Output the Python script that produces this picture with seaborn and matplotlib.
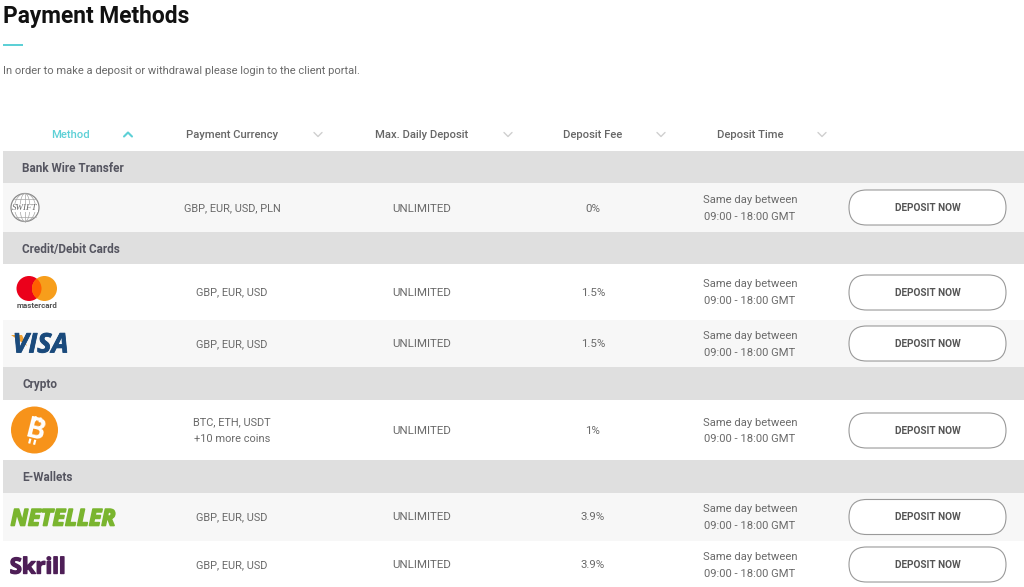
import matplotlib
matplotlib.use("Agg")
import matplotlib.pyplot as plt
import matplotlib.patheffects as pe
import numpy as np
import seaborn as sns
from matplotlib.patches import Circle, FancyBboxPatch, Rectangle, Polygon

title = "Payment Methods"
subtitle = "In order to make a deposit or withdrawal please login to the client portal."
headers = ["Method", "Payment Currency", "Max. Daily Deposit", "Deposit Fee", "Deposit Time"]
groups = ["Bank Wire Transfer", "Credit/Debit Cards", "Crypto", "E-Wallets"]
methods = ["SWIFT", "mastercard", "VISA", "Bitcoin", "NETELLER", "Skrill"]
currencies = ["GBP, EUR, USD, PLN", "GBP, EUR, USD", "GBP, EUR, USD",
              "BTC, ETH, USDT\n+10 more coins", "GBP, EUR, USD", "GBP, EUR, USD"]
limits = ["UNLIMITED"] * 6
fees = ["0%", "1.5%", "1.5%", "1%", "3.9%", "3.9%"]
times = ["Same day between\n09:00 - 18:00 GMT"] * 6
button = "DEPOSIT NOW"

# layout, in page pixels
group_bands = [(151, 183), (232, 264), (367, 400), (460, 493)]
row_bands = [(183, 232), (264, 320), (320, 367), (400, 460), (493, 541), (541, 587)]
row_fill = ["#f7f7f7", "#ffffff", "#f7f7f7", "#ffffff", "#f7f7f7", "#ffffff"]
row_mid = [208.5, 292.5, 344, 430.5, 517.5, 565]
time_mid = [208.5, 292.5, 344.5, 431, 517.5, 565.5]
btn_mid = [207.5, 292.5, 343.5, 430.5, 517, 564.5]
col_x = [70, 232, 422, 593, 750]
chevron_x = [128, 318, 508, 661, 822]

TEAL = "#5dd0d6"
TXT = "#6a6a6a"

sns.set_theme(style="white")
plt.rcParams["font.family"] = ["Roboto", "DejaVu Sans"]


def px(size):
    return size * 0.72


def heavy(color, width):
    return [pe.withStroke(linewidth=width, foreground=color)]


def draw_logos(ax):
    # swift globe
    cx, cy, r = 25, 207.5, 14
    ax.add_patch(Circle((cx, cy), r, fc="white", ec="#8a8a8a", lw=0.9))
    for w in [0.35, 0.75]:
        t = np.linspace(0, 2 * np.pi, 60)
        ax.plot(cx + r * w * np.cos(t), cy + r * np.sin(t), color="#a5a5a5", lw=0.5)
    for dy in [-9, 9]:
        half = np.sqrt(r ** 2 - dy ** 2)
        ax.plot([cx - half, cx + half], [cy + dy, cy + dy], color="#a5a5a5", lw=0.5)
    ax.plot([cx, cx], [cy - r, cy + r], color="#a5a5a5", lw=0.5)
    ax.text(cx, cy + 0.5, "SWIFT", fontsize=px(9), style="italic", family="Liberation Serif",
            ha="center", va="center", color="#666666",
            bbox=dict(fc="white", ec="none", pad=0.3))

    # mastercard
    ax.add_patch(Circle((29, 288.5), 12.5, fc="#eb001b", ec="none"))
    ax.add_patch(Circle((44.5, 288.5), 12.5, fc="#f79e1b", ec="none"))
    lens = Circle((44.5, 288.5), 12.5, fc="#ff5f00", ec="none")
    ax.add_patch(lens)
    lens.set_clip_path(Circle((29, 288.5), 12.5, transform=ax.transData))
    ax.text(37.5, 305.5, methods[1], fontsize=px(8), weight="bold", ha="center", va="center", color="#555555")

    # visa
    ax.text(40.5, 345.5, methods[2], fontsize=px(27), weight="bold", style="italic", ha="center", va="center",
            color="#1a4a7c", family="Open Sans", path_effects=heavy("#1a4a7c", 0.6))
    ax.add_patch(Polygon([(11, 335), (22, 335), (27, 346)], fc="#f0a030", ec="none"))

    # bitcoin
    ax.add_patch(Circle((34.5, 430), 23.5, fc="#f7931a", ec="none"))
    ax.text(35, 430.5, "B", fontsize=px(29), weight="bold", rotation=-14, ha="center", va="center", color="white")
    ang = np.deg2rad(14)
    for off in [-2.5, 2.5]:
        for y0, y1 in [(-14, -9), (9, 14)]:
            xs = [35 + off * np.cos(ang) - y0 * np.sin(ang), 35 + off * np.cos(ang) - y1 * np.sin(ang)]
            ys = [430.5 + off * np.sin(ang) + y0 * np.cos(ang), 430.5 + off * np.sin(ang) + y1 * np.cos(ang)]
            ax.plot(xs, ys, color="white", lw=1.6, solid_capstyle="butt")

    # neteller, skrill
    ax.text(63, 519.5, methods[4], fontsize=px(23), weight="bold", style="italic", ha="center", va="center",
            color="#7ab52f", family="Open Sans", path_effects=heavy("#7ab52f", 1.2))
    ax.text(38, 568, methods[5], fontsize=px(22), weight="bold", ha="center", va="center",
            color="#4e1f57", family="Open Sans", path_effects=heavy("#4e1f57", 1.0))


def draw_chevron(ax, x, y, color, up=False, lw=1.0):
    d = -2 if up else 2
    ax.plot([x - 4, x, x + 4], [y - d, y + d, y - d], color=color, lw=lw)


def main():
    fig = plt.figure(figsize=(10.24, 5.87), dpi=100, facecolor="white")
    ax = fig.add_axes([0, 0, 1, 1])
    ax.set_xlim(0, 1024)
    ax.set_ylim(587, 0)
    ax.axis("off")

    ax.text(3, 16.5, title, fontsize=px(22.7), weight="bold", ha="left", va="center", color="#111111")
    ax.add_patch(Rectangle((3, 43.5), 20, 2, fc=TEAL, ec="none"))
    ax.text(3, 71, subtitle, fontsize=px(11.1), ha="left", va="center", color=TXT)

    for i, name in enumerate(headers):
        ax.text(col_x[i], 135, name, fontsize=px(11.2), weight="medium", ha="center", va="center",
                color=TEAL if i == 0 else "#666666")
        draw_chevron(ax, chevron_x[i], 134.5, TEAL if i == 0 else "#cfcfcf", up=i == 0, lw=1.5 if i == 0 else 1.0)

    for (top, bottom), name in zip(group_bands, groups):
        ax.add_patch(Rectangle((3, top), 1021, bottom - top, fc="#dfdfdf", ec="none"))
        ax.text(22.5, (top + bottom) / 2 + 1, name, fontsize=px(11.8), weight="bold", ha="left", va="center",
                color="#555560")

    for i, (top, bottom) in enumerate(row_bands):
        ax.add_patch(Rectangle((3, top), 1021, bottom - top, fc=row_fill[i], ec="none"))
        ax.text(col_x[1], row_mid[i], currencies[i], fontsize=px(11), ha="center", va="center",
                color=TXT, linespacing=1.85)
        ax.text(col_x[2], row_mid[i], limits[i], fontsize=px(11.5), ha="center", va="center", color=TXT)
        ax.text(col_x[3], row_mid[i], fees[i], fontsize=px(11.5), ha="center", va="center", color=TXT)
        ax.text(col_x[4], time_mid[i], times[i], fontsize=px(11.2), ha="center", va="center",
                color=TXT, linespacing=1.85)
        mid = btn_mid[i]
        ax.add_patch(FancyBboxPatch((849 + 17.5, mid - 0.01), 157 - 35, 0.02,
                                    boxstyle="round,pad=17.5,rounding_size=17.5",
                                    fc="white", ec="#9a9a9a", lw=0.8))
        ax.text(927.5, mid + 0.5, button, fontsize=px(10), weight="bold", ha="center", va="center", color="#555555")

    draw_logos(ax)
    fig.savefig("out.png", dpi=100, facecolor="white")


if __name__ == "__main__":
    main()
